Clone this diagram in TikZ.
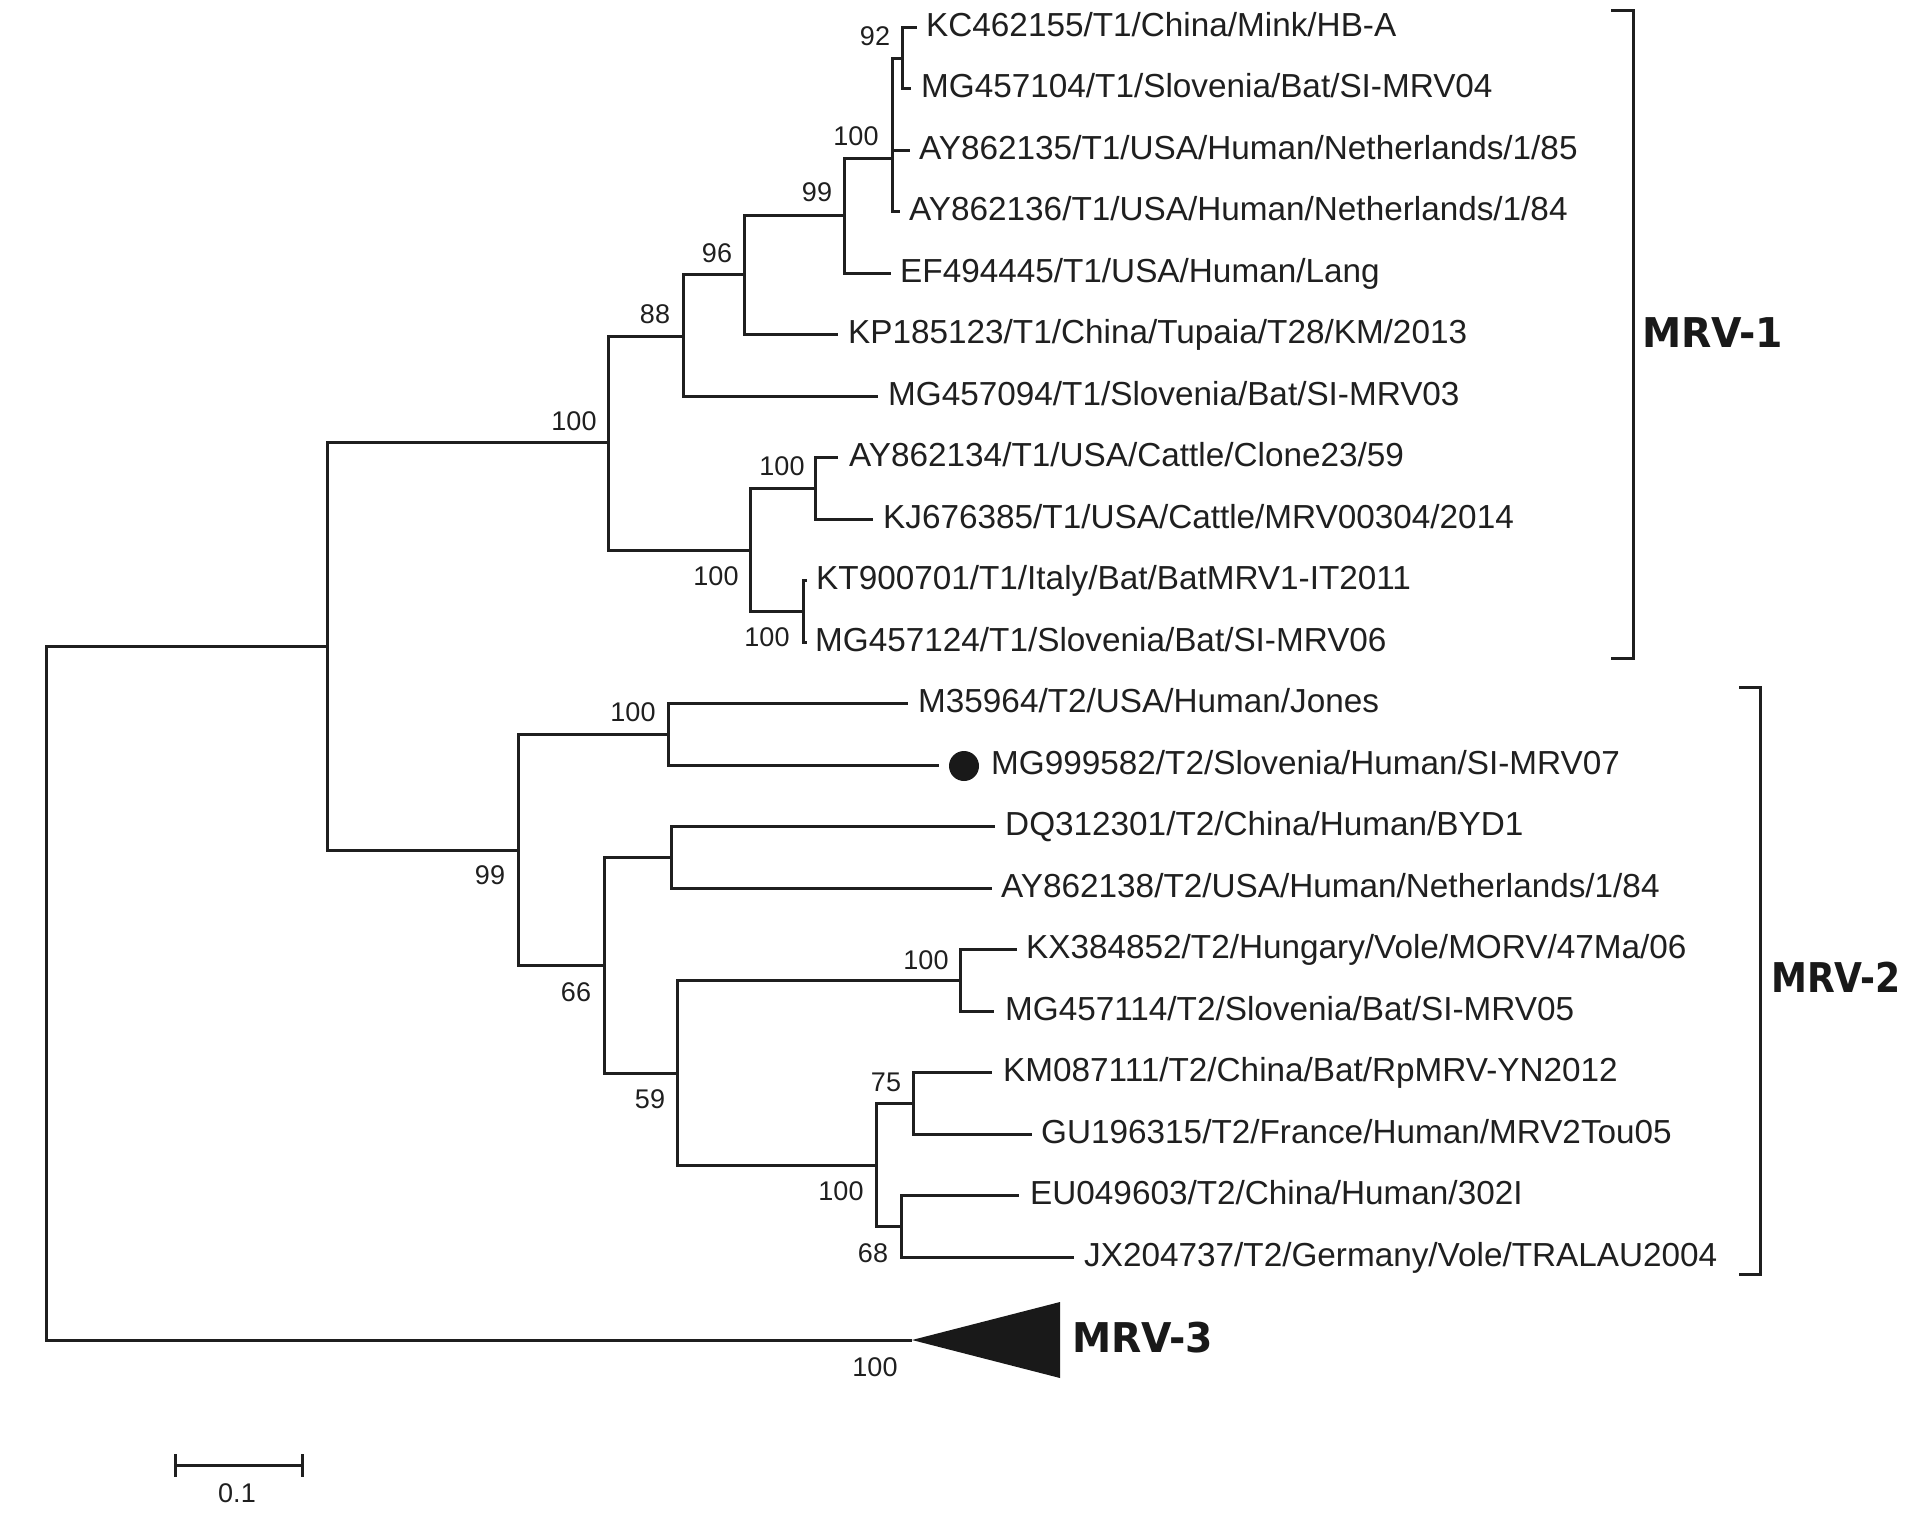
\documentclass[tikz,border=0pt]{standalone}
\usepackage{fontspec}
\setmainfont{Liberation Sans}
\newfontfamily\grpfont{DejaVu Sans}
\begin{document}
\begin{tikzpicture}[x=1pt,y=-1pt,
  br/.style={line width=3pt, draw=black!88},
  leaf/.style={anchor=base west, inner sep=0pt, text=black!88, font=\fontsize{33.3}{40}\selectfont},
  boot/.style={anchor=center, inner sep=0pt, text=black!88, font=\fontsize{27}{32}\selectfont},
  grp/.style={anchor=west, inner sep=0pt, text=black!90, font=\grpfont\bfseries\fontsize{41}{48}\selectfont}]
\useasboundingbox (0,0) rectangle (1906,1513);
% ---------- internal nodes ----------
\coordinate (a92) at (902,58);
\coordinate (a100) at (892,158);
\coordinate (a99) at (844,215);
\coordinate (a96) at (744,274.5);
\coordinate (a88) at (683,336);
\coordinate (c100) at (815,488);
\coordinate (b100) at (803,611);
\coordinate (d100) at (750,550);
\coordinate (m1) at (608,442);
\coordinate (m12) at (327,646);
\coordinate (j100) at (668,734);
\coordinate (e2) at (671,857);
\coordinate (k100) at (960,980);
\coordinate (g75) at (913,1103);
\coordinate (h68) at (901,1226);
\coordinate (f100) at (876,1165);
\coordinate (s59) at (677,1073);
\coordinate (s66) at (604,965);
\coordinate (m2) at (518,850);
\coordinate (root) at (46,993);
% ---------- leaf tips ----------
\coordinate (t0) at (917,27);
\coordinate (t1) at (911,88.5);
\coordinate (t2) at (910,150);
\coordinate (t3) at (900,211.5);
\coordinate (t4) at (891,273);
\coordinate (t5) at (838,334.5);
\coordinate (t6) at (878,396);
\coordinate (t7) at (838,457.5);
\coordinate (t8) at (873,519);
\coordinate (t9) at (807,580.5);
\coordinate (t10) at (807,642);
\coordinate (t11) at (908,703.5);
\coordinate (t12) at (939,765);
\coordinate (t13) at (995,826.5);
\coordinate (t14) at (992,888);
\coordinate (t15) at (1017,949.5);
\coordinate (t16) at (994,1011);
\coordinate (t17) at (992,1072.5);
\coordinate (t18) at (1032,1134);
\coordinate (t19) at (1019,1195.5);
\coordinate (t20) at (1074,1257);
\coordinate (t21) at (912,1340);
\coordinate (tri1) at (1060,1302);
\coordinate (tri2) at (1060,1378);
% ---------- leaf labels ----------
\node[leaf] (n0) at (926,36) {KC462155/T1/China/Mink/HB-A};
\node[leaf] (n1) at (921,97.5) {MG457104/T1/Slovenia/Bat/SI-MRV04};
\node[leaf] (n2) at (919,159) {AY862135/T1/USA/Human/Netherlands/1/85};
\node[leaf] (n3) at (909,220.5) {AY862136/T1/USA/Human/Netherlands/1/84};
\node[leaf] (n4) at (900,282) {EF494445/T1/USA/Human/Lang};
\node[leaf] (n5) at (848,343.5) {KP185123/T1/China/Tupaia/T28/KM/2013};
\node[leaf] (n6) at (888,405) {MG457094/T1/Slovenia/Bat/SI-MRV03};
\node[leaf] (n7) at (849,466.5) {AY862134/T1/USA/Cattle/Clone23/59};
\node[leaf] (n8) at (883,528) {KJ676385/T1/USA/Cattle/MRV00304/2014};
\node[leaf] (n9) at (816,589.5) {KT900701/T1/Italy/Bat/BatMRV1-IT2011};
\node[leaf] (n10) at (815,651) {MG457124/T1/Slovenia/Bat/SI-MRV06};
\node[leaf] (n11) at (918,712.5) {M35964/T2/USA/Human/Jones};
\node[circle, fill=black!90, minimum size=30pt, inner sep=0pt] (dot) at (964,766) {};
\node[leaf] (n12) at (991,774) {MG999582/T2/Slovenia/Human/SI-MRV07};
\node[leaf] (n13) at (1005,835.5) {DQ312301/T2/China/Human/BYD1};
\node[leaf] (n14) at (1001,897) {AY862138/T2/USA/Human/Netherlands/1/84};
\node[leaf] (n15) at (1026,958.5) {KX384852/T2/Hungary/Vole/MORV/47Ma/06};
\node[leaf] (n16) at (1005,1020) {MG457114/T2/Slovenia/Bat/SI-MRV05};
\node[leaf] (n17) at (1003,1081.5) {KM087111/T2/China/Bat/RpMRV-YN2012};
\node[leaf] (n18) at (1041,1143) {GU196315/T2/France/Human/MRV2Tou05};
\node[leaf] (n19) at (1030,1204.5) {EU049603/T2/China/Human/302I};
\node[leaf] (n20) at (1084,1266) {JX204737/T2/Germany/Vole/TRALAU2004};
% ---------- branches ----------
\draw[br] (a92) |- (t0);  \draw[br] (a92) |- (t1);
\draw[br] (a100) |- (a92); \draw[br] (a100) |- (t2); \draw[br] (a100) |- (t3);
\draw[br] (a99) |- (a100); \draw[br] (a99) |- (t4);
\draw[br] (a96) |- (a99); \draw[br] (a96) |- (t5);
\draw[br] (a88) |- (a96); \draw[br] (a88) |- (t6);
\draw[br] (c100) |- (t7); \draw[br] (c100) |- (t8);
\draw[br] (b100) |- (t9); \draw[br] (b100) |- (t10);
\draw[br] (d100) |- (c100); \draw[br] (d100) |- (b100);
\draw[br] (m1) |- (a88); \draw[br] (m1) |- (d100);
\draw[br] (m12) |- (m1); \draw[br] (m12) |- (m2);
\draw[br] (j100) |- (t11); \draw[br] (j100) |- (t12);
\draw[br] (e2) |- (t13); \draw[br] (e2) |- (t14);
\draw[br] (k100) |- (t15); \draw[br] (k100) |- (t16);
\draw[br] (g75) |- (t17); \draw[br] (g75) |- (t18);
\draw[br] (h68) |- (t19); \draw[br] (h68) |- (t20);
\draw[br] (f100) |- (g75); \draw[br] (f100) |- (h68);
\draw[br] (s59) |- (k100); \draw[br] (s59) |- (f100);
\draw[br] (s66) |- (e2); \draw[br] (s66) |- (s59);
\draw[br] (m2) |- (j100); \draw[br] (m2) |- (s66);
\draw[br] (root) |- (m12); \draw[br] (root) |- (t21);
\fill[black!90] (t21) -- (tri1) -- (tri2) -- cycle;
% ---------- bootstrap values ----------
\node[boot] (b1) at (875,36) {92};
\node[boot] (b2) at (856,136) {100};
\node[boot] (b3) at (817,192) {99};
\node[boot] (b4) at (717,253) {96};
\node[boot] (b5) at (655,314) {88};
\node[boot] (b6) at (574,421) {100};
\node[boot] (b7) at (782,466) {100};
\node[boot] (b8) at (716,576) {100};
\node[boot] (b9) at (767,637) {100};
\node[boot] (b10) at (633,712) {100};
\node[boot] (b11) at (490,875) {99};
\node[boot] (b12) at (576,992) {66};
\node[boot] (b13) at (926,960) {100};
\node[boot] (b14) at (886,1082) {75};
\node[boot] (b15) at (650,1099) {59};
\node[boot] (b16) at (841,1191) {100};
\node[boot] (b17) at (873,1253) {68};
\node[boot] (b18) at (875,1367) {100};
% ---------- group brackets ----------
\coordinate (g1a) at (1611,10); \coordinate (g1b) at (1633,10);
\coordinate (g1c) at (1633,658); \coordinate (g1d) at (1611,658);
\draw[br] (g1a) -- (g1b) -- (g1c) -- (g1d);
\coordinate (g2a) at (1739,687); \coordinate (g2b) at (1760,687);
\coordinate (g2c) at (1760,1274); \coordinate (g2d) at (1739,1274);
\draw[br] (g2a) -- (g2b) -- (g2c) -- (g2d);
\node[grp] (G1) at (1642,333) {\scalebox{0.96}[1]{MRV-1}};
\node[grp] (G2) at (1771,977) {\scalebox{0.88}[1]{MRV-2}};
\node[grp] (G3) at (1072,1338) {\scalebox{0.96}[1]{MRV-3}};
% ---------- scale bar ----------
\coordinate (s1) at (175,1465); \coordinate (s2) at (302,1465);
\draw[br] (s1) -- (s2);
\draw[br] ([yshift=-11.5pt]s1) -- ([yshift=11.5pt]s1);
\draw[br] ([yshift=-11.5pt]s2) -- ([yshift=11.5pt]s2);
\node[boot] (sb) at (237,1493) {0.1};
\end{tikzpicture}
\end{document}
